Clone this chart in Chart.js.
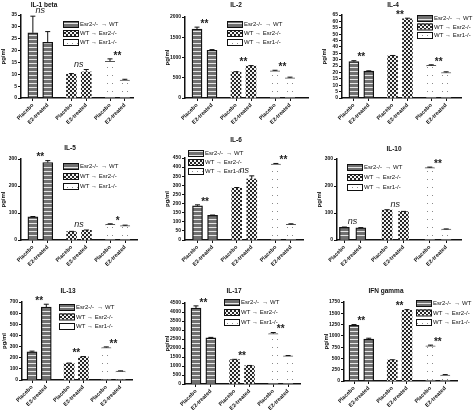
<!DOCTYPE html>
<html>
<head>
<meta charset="utf-8">
<script src="https://cdn.jsdelivr.net/npm/chart.js@4.4.1/dist/chart.umd.min.js"></script>
<style>
  body { margin: 0; background: #fff; }
  #wrap { position: relative; width: 474px; height: 412px; overflow: hidden; }
  #wrap canvas { position: absolute; left: 0; top: 0; }
</style>
</head>
<body>
<div id="wrap"></div>
<script>
// --- data ---
const titles = ['IL-1 beta', 'IL-2', 'IL-4', 'IL-5', 'IL-6', 'IL-10', 'IL-13', 'IL-17', 'IFN gamma'];
const barLabels = ['Placebo', 'E2-treated'];
const groupNames = ['Esr2-/-  \u2192 WT', 'WT \u2192 Esr2-/-', 'WT \u2192 Esr1-/-'];

// order: [Esr2->WT placebo, E2, WT->Esr2 placebo, E2, WT->Esr1 placebo, E2]
const il1bMeans = [27.5, 23.5, 10, 11, 15.5, 7.6];
const il1bErrs  = [7, 4.5, 0.3, 1, 1, 0.3];
const il2Means  = [1700, 1180, 640, 790, 670, 500];
const il2Errs   = [50, 15, 10, 10, 15, 15];
const il4Means  = [28.5, 21, 33, 62, 25.5, 20];
const il4Errs   = [0.7, 0.3, 0.3, 0.5, 0.5, 0.5];
const il5Means  = [86, 287, 31, 36, 58, 53];
const il5Errs   = [1, 7, 1, 1, 2, 2];
const il6Means  = [188, 135, 285, 335, 417, 86];
const il6Errs   = [5, 2, 3, 17, 3, 3];
const il10Means = [47, 45, 111, 105, 268, 40];
const il10Errs  = [1, 1, 1, 1, 2, 1];
const il13Means = [253, 655, 150, 208, 292, 80];
const il13Errs  = [6, 25, 2, 2, 5, 2];
const il17Means = [4220, 2560, 1350, 1010, 2800, 1560];
const il17Errs  = [120, 30, 20, 20, 60, 20];
const ifngMeans = [1235, 928, 463, 1566, 780, 132];
const ifngErrs  = [15, 20, 8, 15, 15, 10];

const il1bSig = ['ns', 'ns', '**'];
const il2Sig  = ['**', '**', '**'];
const il4Sig  = ['**', '**', '**'];
const il5Sig  = ['**', 'ns', '*'];
const il6Sig  = ['**', 'ns', '**'];
const il10Sig = ['ns', 'ns', '**'];
const il13Sig = ['**', '**', '**'];
const il17Sig = ['**', '**', '**'];
const ifngSig = ['**', '**', '**'];

const yMax  = [35, 2000, 65, 300, 450, 300, 700, 4500, 1750];
const yStep = [5, 500, 5, 100, 50, 100, 100, 500, 250];

const allMeans = [il1bMeans, il2Means, il4Means, il5Means, il6Means, il10Means, il13Means, il17Means, ifngMeans];
const allErrs  = [il1bErrs, il2Errs, il4Errs, il5Errs, il6Errs, il10Errs, il13Errs, il17Errs, ifngErrs];
const allSigs  = [il1bSig, il2Sig, il4Sig, il5Sig, il6Sig, il10Sig, il13Sig, il17Sig, ifngSig];

// --- layout (page pixels) ---
const panels = [
  { x0: 21,  x1: 133, top: 15,  bot: 98,  xMin: -0.8,  xMax: 6.75, title: [44, 5],    legend: [63, 21, 9] },
  { x0: 185, x1: 308, top: 17,  bot: 98,  xMin: -0.8,  xMax: 7.4,  title: [236, 5],   legend: [227, 21, 9] },
  { x0: 342, x1: 461, top: 15,  bot: 98,  xMin: -0.8,  xMax: 7.2,  title: [393, 5],   legend: [417, 15, 8.5] },
  { x0: 21,  x1: 137, top: 159, bot: 240, xMin: -0.8,  xMax: 7.0,  title: [70, 148],  legend: [63, 163, 10] },
  { x0: 185, x1: 303, top: 158, bot: 240, xMin: -0.83, xMax: 7.0,  title: [236, 140], legend: [188, 150, 9] },
  { x0: 337, x1: 461, top: 159, bot: 240, xMin: -0.45, xMax: 7.1,  title: [394, 149], legend: [347, 164, 10] },
  { x0: 22,  x1: 132, top: 302, bot: 380, xMin: -0.7,  xMax: 7.0,  title: [68, 291],  legend: [59, 304, 9.5] },
  { x0: 185, x1: 300, top: 303, bot: 384, xMin: -0.74, xMax: 7.0,  title: [234, 291], legend: [224, 299, 10] },
  { x0: 344, x1: 457, top: 302, bot: 381, xMin: -0.68, xMax: 7.0,  title: [386, 291], legend: [416, 300, 9.5] },
];
const Y_W = 21, X_H = 26, GROUP_STEP = 2.6;
const xAt = k => Math.floor(k / 2) * GROUP_STEP + (k % 2);

// --- fill patterns ---
function tile(w, h, draw) {
  const c = document.createElement('canvas');
  c.width = w; c.height = h;
  const g = c.getContext('2d');
  draw(g);
  return g.createPattern(c, 'repeat');
}
const stripes = tile(4, 4, g => {
  g.fillStyle = '#707070'; g.fillRect(0, 0, 4, 4);
  g.fillStyle = '#e6e6e6'; g.fillRect(0, 3, 4, 1);
});
const checker = tile(4, 4, g => {
  g.fillStyle = '#f2f2f2'; g.fillRect(0, 0, 4, 4);
  g.fillStyle = '#262626'; g.fillRect(0, 0, 2, 2); g.fillRect(2, 2, 2, 2);
});
const dots = tile(5, 8, g => {
  g.fillStyle = '#fff'; g.fillRect(0, 0, 5, 8);
  g.fillStyle = '#8a8a8a'; g.fillRect(2, 3, 1, 1);
});
const fills = [stripes, checker, dots];

Chart.defaults.font.family = '"Liberation Sans", Arial, sans-serif';
Chart.defaults.color = '#111';

const extras = {
  id: 'extras',
  afterDatasetsDraw(chart, args, o) {
    const ctx = chart.ctx, ys = chart.scales.y;
    const m = o.means, e = o.errs;
    ctx.save();
    ctx.strokeStyle = '#111'; ctx.lineWidth = 1;
    // error bars
    chart.data.datasets.forEach((ds, d) => {
      chart.getDatasetMeta(d).data.forEach((el, j) => {
        const k = d * 2 + j;
        if (!e[k]) return;
        const yt = ys.getPixelForValue(m[k] + e[k]);
        ctx.beginPath();
        ctx.moveTo(el.x, el.y); ctx.lineTo(el.x, yt);
        ctx.moveTo(el.x - 2.5, yt); ctx.lineTo(el.x + 2.5, yt);
        ctx.stroke();
      });
    });
    // significance marks
    ctx.fillStyle = '#222';
    ctx.textAlign = 'center'; ctx.textBaseline = 'bottom';
    o.sigs.forEach((s, g) => {
      const els = chart.getDatasetMeta(g).data;
      const x = (els[0].x + els[1].x) / 2;
      const top = Math.max(m[2 * g] + e[2 * g], m[2 * g + 1] + e[2 * g + 1]);
      const y = ys.getPixelForValue(top) - 1;
      ctx.font = s === 'ns' ? 'italic 9px "Liberation Sans", Arial' : 'bold 10px "Liberation Sans", Arial';
      ctx.fillText(s, x, s === 'ns' ? y : y + 3);
    });
    // title
    ctx.font = 'bold 6.5px "Liberation Sans", Arial';
    ctx.textBaseline = 'middle';
    ctx.fillStyle = '#111';
    ctx.fillText(o.title, o.titlePos[0], o.titlePos[1]);
    // legend
    const [lx, ly, gap] = o.legend;
    ctx.textAlign = 'left';
    ctx.font = '6px "Liberation Sans", Arial';
    groupNames.forEach((name, g) => {
      const y = ly + g * gap;
      ctx.fillStyle = fills[g];
      ctx.fillRect(lx, y, 15, 6);
      ctx.strokeStyle = '#111';
      ctx.strokeRect(lx + 0.5, y + 0.5, 15, 6);
      ctx.fillStyle = '#111';
      ctx.fillText(name, lx + 17, y + 3.5);
    });
    ctx.restore();
  }
};

const wrap = document.getElementById('wrap');
panels.forEach((p, i) => {
  const cv = document.createElement('canvas');
  cv.width = 474; cv.height = 412;
  cv.style.width = '474px'; cv.style.height = '412px';
  wrap.appendChild(cv);
  const m = allMeans[i];
  new Chart(cv, {
    type: 'bar',
    data: {
      datasets: groupNames.map((name, g) => ({
        label: name,
        data: [0, 1].map(t => ({ x: xAt(2 * g + t), y: m[2 * g + t] })),
        backgroundColor: fills[g],
        borderColor: g === 2 ? '#555' : '#111',
        borderWidth: g === 0 ? 1.3 : (g === 2 ? { top: 1, left: 0, right: 0, bottom: 0 } : 0),
        borderSkipped: 'start',
        barThickness: 10,
        grouped: false
      }))
    },
    options: {
      responsive: false,
      animation: false,
      events: [],
      layout: { padding: { left: p.x0 - Y_W, right: 474 - p.x1, top: p.top, bottom: 412 - p.bot - X_H } },
      plugins: {
        legend: { display: false },
        tooltip: { enabled: false },
        extras: {
          means: m, errs: allErrs[i], sigs: allSigs[i],
          title: titles[i], titlePos: p.title, legend: p.legend
        }
      },
      scales: {
        x: {
          type: 'linear',
          min: p.xMin, max: p.xMax,
          offset: false,
          afterBuildTicks: axis => { axis.ticks = [0, 1, 2, 3, 4, 5].map(k => ({ value: xAt(k) })); },
          afterFit: s => { s.height = X_H; },
          ticks: {
            autoSkip: false, minRotation: 45, maxRotation: 45, padding: 1,
            font: { size: 5.5, weight: 'bold' },
            callback: (v, idx) => barLabels[idx % 2]
          },
          grid: { display: true, offset: false, drawOnChartArea: false, drawTicks: true, tickLength: 3, color: '#111' },
          border: { display: true, color: '#111', width: 1.5 }
        },
        y: {
          min: 0, max: yMax[i],
          afterFit: s => { s.width = Y_W; },
          ticks: {
            stepSize: yStep[i], autoSkip: false, padding: 1,
            font: { size: 5, weight: 'bold' },
            callback: v => String(v)
          },
          title: { display: true, text: 'pg/ml', padding: 0, font: { size: 6, weight: 'bold' } },
          grid: { display: true, drawOnChartArea: false, drawTicks: true, tickLength: 3, color: '#111' },
          border: { display: true, color: '#111', width: 1.5 }
        }
      }
    },
    plugins: [extras]
  });
});
</script>
</body>
</html>
